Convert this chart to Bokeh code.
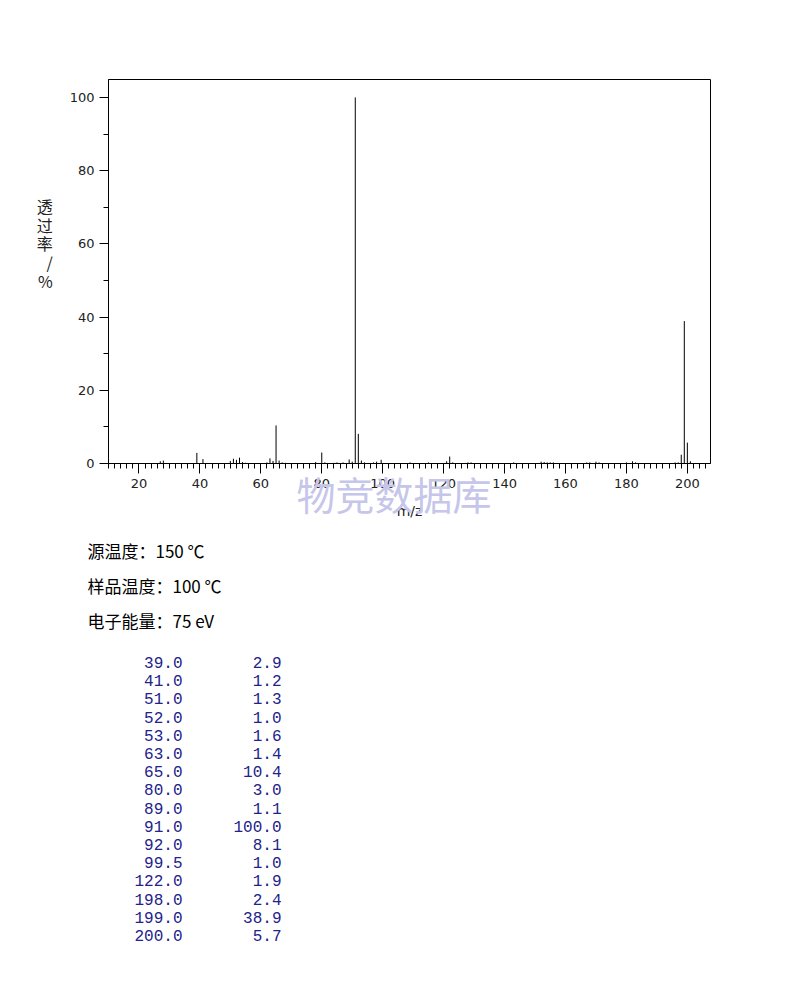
from bokeh.plotting import figure
from bokeh.models import FixedTicker, Range1d, Title, LinearAxis
from bokeh.layouts import column
from bokeh.core.properties import value
from bokeh.embed import file_html
from bokeh.resources import INLINE

# ---- data ----
peak_mz = [27, 28, 39, 41, 50, 51, 52, 53, 54, 55, 62, 63, 64, 65, 66, 67, 68,
           78, 80, 81, 84, 85, 87, 89, 90, 91, 92, 93, 94, 97, 98, 99.5,
           109, 115, 121, 122, 123, 128, 129, 143, 152, 153, 154, 155, 156,
           167, 168, 170, 171, 180, 182, 183, 196, 197, 198, 199, 200, 201]
peak_int = [0.6, 0.8, 2.9, 1.2, 0.7, 1.3, 1.0, 1.6, 0.4, 0.2, 0.3, 1.4, 0.7, 10.4, 0.8, 0.3, 0.2,
            0.4, 3.0, 0.3, 0.2, 0.3, 0.3, 1.1, 0.5, 100.0, 8.1, 0.8, 0.3, 0.3, 0.5, 1.0,
            0.3, 0.3, 0.6, 1.9, 0.3, 0.3, 0.3, 0.3, 0.5, 0.4, 0.3, 0.3, 0.3,
            0.3, 0.3, 0.5, 0.3, 0.3, 0.6, 0.3, 0.3, 0.3, 2.4, 38.9, 5.7, 0.6]

x_major = [20, 40, 60, 80, 100, 120, 140, 160, 180, 200]
x_mid = [10, 30, 50, 70, 90, 110, 130, 150, 170, 190]
x_minor = list(range(10, 208, 2))
y_major = [0, 20, 40, 60, 80, 100]
y_minor = [10, 30, 50, 70, 90]

info_lines = ["源温度：150 ℃", "样品温度：100 ℃", "电子能量：75 eV"]
y_title = "透\n过\n率\n/\n%\n　\n　\n　"
x_title = "m/z"
watermark = "物竞数据库"

table = [(m, v) for m, v in zip(peak_mz, peak_int) if v >= 1.0]

# ---- geometry ----
X0, X1 = 10, 207.6
Y0, Y1 = 0, 104.9
FW, FH = 602, 384
FL, FT = 108, 79
FB = FT + FH
W = 760
H1 = 538

p = figure(frame_width=FW, frame_height=FH,
           x_range=Range1d(X0, X1), y_range=Range1d(Y0, Y1),
           min_border_left=FL, min_border_top=FT,
           min_border_right=W - FL - FW, min_border_bottom=H1 - FB,
           output_backend="svg", toolbar_location=None,
           background_fill_color="white", border_fill_color="white")
p.grid.visible = False
p.outline_line_color = "black"
p.outline_line_width = 1

tick_font = "DejaVu Sans"

xa = p.xaxis[0]
xa.ticker = FixedTicker(ticks=x_major, minor_ticks=x_minor)
xa.major_tick_out = 10
xa.major_tick_in = 0
xa.minor_tick_out = 5
xa.minor_tick_in = 0
xa.axis_line_color = "black"
xa.major_tick_line_color = "black"
xa.minor_tick_line_color = "black"
xa.major_label_text_font = tick_font
xa.major_label_text_font_size = "13px"
xa.major_label_text_color = "#222222"
xa.major_label_standoff = 5
xa.axis_label = x_title
xa.axis_label_text_font = tick_font
xa.axis_label_text_font_size = "14px"
xa.axis_label_text_font_style = "normal"
xa.axis_label_text_color = "#222222"
xa.axis_label_standoff = 12

ya = p.yaxis[0]
ya.ticker = FixedTicker(ticks=y_major, minor_ticks=y_minor)
ya.major_tick_out = 9
ya.major_tick_in = 0
ya.minor_tick_out = 5
ya.minor_tick_in = 0
ya.axis_line_color = "black"
ya.major_tick_line_color = "black"
ya.minor_tick_line_color = "black"
ya.major_label_text_font = tick_font
ya.major_label_text_font_size = "13px"
ya.major_label_text_color = "#222222"
ya.major_label_standoff = 5
ya.axis_label = y_title
ya.axis_label_orientation = "horizontal"
ya.axis_label_text_font = "Noto Sans CJK SC"
ya.axis_label_text_font_size = "16px"
ya.axis_label_text_font_style = "normal"
ya.axis_label_text_color = "#222222"
ya.axis_label_text_line_height = 0.78
ya.axis_label_standoff = 14

# peaks
p.segment(x0=peak_mz, y0=[0] * len(peak_mz), x1=peak_mz, y1=peak_int,
          line_color="black", line_width=1)

# watermark drawn over the x-axis area (title in the bottom panel pulled up)
wm = Title(text=watermark, align="left", vertical_align="top", offset=188, standoff=-113,
           text_font="Noto Sans CJK SC", text_font_size="39px",
           text_font_style="normal", text_color="#c6c6ea")
p.add_layout(wm, "below")

# medium ticks at the odd tens, drawn on the zero line
mid = LinearAxis(fixed_location=0, ticker=FixedTicker(ticks=x_mid, minor_ticks=[]),
                 major_label_overrides={m: "" for m in x_mid},
                 major_tick_out=7, major_tick_in=0, axis_line_color=None,
                 major_tick_line_color="black", minor_tick_line_color=None)
p.add_layout(mid, "below")

# ---- text panel below the chart ----
H2 = 420
t = figure(frame_width=W, frame_height=H2, x_range=Range1d(0, W), y_range=Range1d(H2, 0),
           min_border=0, output_backend="svg", toolbar_location=None,
           x_axis_type=None, y_axis_type=None,
           background_fill_color="white", border_fill_color="white")
if "frame_align" in t.properties():
    t.frame_align = False
t.grid.visible = False
t.outline_line_color = None

info_y = [550 - H1 + 35 * i for i in range(len(info_lines))]
t.text(x=[87] * len(info_lines), y=info_y, text=info_lines,
       text_align="left", text_baseline="middle",
       text_font=value("Noto Sans CJK SC"), text_font_size="17px", text_color="black")

row_y = [662 - H1 + 18.2 * i for i in range(len(table))]
t.text(x=[182] * len(table), y=row_y, text=[f"{m:.1f}" for m, _ in table],
       text_align="right", text_baseline="middle",
       text_font=value("Liberation Mono"), text_font_size="16px", text_color="#22228a")
t.text(x=[281] * len(table), y=row_y, text=[f"{v:.1f}" for _, v in table],
       text_align="right", text_baseline="middle",
       text_font=value("Liberation Mono"), text_font_size="16px", text_color="#22228a")

open("out.html", "w").write(file_html(column(p, t, spacing=0), INLINE))
